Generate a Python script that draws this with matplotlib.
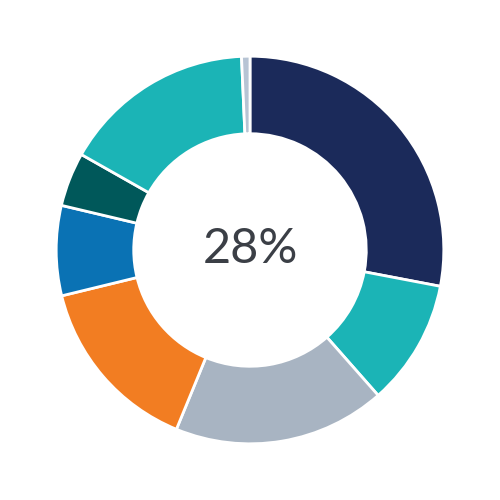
import matplotlib
matplotlib.use("Agg")
import matplotlib.pyplot as plt

# parts of the ring, clockwise from the top
labels = ["A", "B", "C", "D", "E", "F", "G", "H"]
values = [28.0, 10.5, 17.7, 15.0, 7.5, 4.5, 16.1, 0.7]
colors = ["#1b2a5a", "#1bb4b6", "#a8b4c2", "#f27d22",
          "#0a72b4", "#00585a", "#1bb4b6", "#b7c4d4"]
center_label = "28%"

fig = plt.figure(figsize=(5, 5), dpi=100)
ax = fig.add_axes([0, 0, 1, 1])

ax.pie(values, colors=colors, startangle=90, counterclock=False,
       radius=1.0, wedgeprops=dict(width=0.4, edgecolor="white", linewidth=2))

ax.text(0, 0.005, center_label, ha="center", va="center",
        fontsize=35, color="#3b3f46", family="Lato")

ax.set_xlim(-1.29, 1.29)
ax.set_ylim(-1.29, 1.29)
ax.set_aspect("equal")
ax.axis("off")

fig.savefig("out.png", dpi=100, facecolor="white")
